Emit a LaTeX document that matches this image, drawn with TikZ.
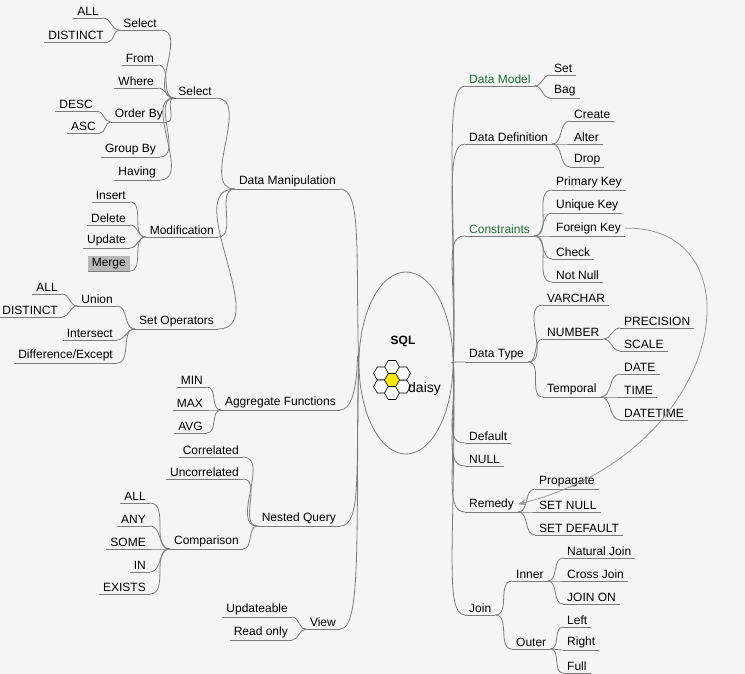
\documentclass[tikz,border=0pt]{standalone}
\usepackage{fontspec}
\setmainfont{Liberation Sans}
\usetikzlibrary{shapes.geometric,arrows.meta}
\definecolor{linegray}{HTML}{7C7C7C}
\definecolor{bggray}{HTML}{F5F5F5}
\definecolor{topicgreen}{HTML}{1F6E35}
\begin{document}
\begin{tikzpicture}[x=1pt,y=-1pt,font=\fontsize{12}{14}\selectfont]
	\tikzset{link/.style = {draw=linegray, line width=0.8pt}}
	\tikzset{ul/.style = {inner xsep=4pt, inner ysep=2pt, append after command={(\tikzlastnode.south west) edge[link] (\tikzlastnode.south east)}}}
	\tikzset{lt/.style = {ul, anchor=south east}}
	\tikzset{rt/.style = {ul, anchor=south west}}
	\tikzset{green/.style = {text=topicgreen}}
	\tikzset{hex/.style = {shape=regular polygon, regular polygon sides=6, draw=black, fill=white, line width=0.6pt, minimum size=15pt, inner sep=0pt}}
	\fill[bggray] (0,0) rectangle (745,674);
	\useasboundingbox (0,0) rectangle (745,674);
	% centre
	\node[shape=ellipse, draw=linegray, line width=0.8pt, minimum width=94pt, minimum height=182pt] (root) at (406,363) {};
	\node[font=\fontsize{12}{14}\selectfont\bfseries] (sql) at (403,341) {SQL};
	\node[hex] (h1) at (392,367) {};
	\node[hex] (h2) at (381,373.5) {};
	\node[hex] (h3) at (381,386.5) {};
	\node[hex] (h4) at (392,393) {};
	\node[hex] (h5) at (403,386.5) {};
	\node[hex] (h6) at (403,373.5) {};
	\node[hex, fill=yellow!90!orange] (h0) at (392,380) {};
	\node[font=\fontsize{14}{16}\selectfont, anchor=west, inner sep=0pt] (daisy) at (408,389) {daisy};
	% left side
	\node[lt] (all1) at (103,18) {ALL};
	\node[lt] (dist1) at (108,42) {DISTINCT};
	\node[lt] (sel2) at (161,30) {Select};
	\node[lt] (from) at (158,65) {From};
	\node[lt] (where) at (158,88) {Where};
	\node[lt] (desc) at (97,111) {DESC};
	\node[lt] (asc) at (100,133) {ASC};
	\node[lt] (order) at (167,122) {Order By};
	\node[lt] (group) at (160,157) {Group By};
	\node[lt] (having) at (160,180) {Having};
	\node[lt] (sel) at (216,98) {Select};
	\node[lt] (dm) at (340,189) {Data Manipulation};
	\node[lt] (insert) at (130,202) {Insert};
	\node[lt] (delete) at (130,225) {Delete};
	\node[lt] (update) at (130,248) {Update};
	\node[lt, fill=gray!55] (merge) at (130,271) {Merge};
	\node[lt] (modif) at (218,237) {Modification};
	\node[lt] (all2) at (62,294) {ALL};
	\node[lt] (dist2) at (62,317) {DISTINCT};
	\node[lt] (union) at (117,306) {Union};
	\node[lt] (inter) at (117,340) {Intersect};
	\node[lt] (diff) at (117,363) {Difference/Except};
	\node[lt] (setop) at (218,329) {Set Operators};
	\node[lt] (agg) at (340,410) {Aggregate Functions};
	\node[lt] (min) at (207,387) {MIN};
	\node[lt] (max) at (207,410) {MAX};
	\node[lt] (avg) at (207,433) {AVG};
	\node[lt] (nq) at (340,526) {Nested Query};
	\node[lt] (corr) at (243,457) {Correlated};
	\node[lt] (uncorr) at (243,479) {Uncorrelated};
	\node[lt] (comp) at (243,549) {Comparison};
	\node[lt] (all3) at (150,503) {ALL};
	\node[lt] (any) at (150,526) {ANY};
	\node[lt] (some) at (150,549) {SOME};
	\node[lt] (in) at (150,572) {IN};
	\node[lt] (exists) at (150,594) {EXISTS};
	\node[lt] (view) at (340,629) {View};
	\node[lt] (upd) at (292,617) {Updateable};
	\node[lt] (ronly) at (292,640) {Read only};
	% right side
	\node[rt, green] (dmod) at (465,86) {Data Model};
	\node[rt] (set) at (550,75) {Set};
	\node[rt] (bag) at (550,98) {Bag};
	\node[rt] (ddef) at (465,144) {Data Definition};
	\node[rt] (create) at (570,121) {Create};
	\node[rt] (alter) at (570,144) {Alter};
	\node[rt] (drop) at (570,167) {Drop};
	\node[rt, green] (cons) at (465,236) {Constraints};
	\node[rt] (pk) at (552,190) {Primary Key};
	\node[rt] (uk) at (552,213) {Unique Key};
	\node[rt] (fk) at (552,236) {Foreign Key};
	\node[rt] (check) at (552,259) {Check};
	\node[rt] (nn) at (552,282) {Not Null};
	\node[rt] (dtype) at (465,362) {Data Type};
	\node[rt] (varchar) at (543,305) {VARCHAR};
	\node[rt] (number) at (543,339) {NUMBER};
	\node[rt] (prec) at (620,328) {PRECISION};
	\node[rt] (scale) at (620,351) {SCALE};
	\node[rt] (temporal) at (543,397) {Temporal};
	\node[rt] (date) at (620,374) {DATE};
	\node[rt] (time) at (620,397) {TIME};
	\node[rt] (datetime) at (620,420) {DATETIME};
	\node[rt] (default) at (465,443) {Default};
	\node[rt] (null) at (465,466) {NULL};
	\node[rt] (remedy) at (465,512) {Remedy};
	\node[rt] (prop) at (535,489) {Propagate};
	\node[rt] (setnull) at (535,512) {SET NULL};
	\node[rt] (setdef) at (535,535) {SET DEFAULT};
	\node[rt] (join) at (465,615) {Join};
	\node[rt] (inner) at (512,581) {Inner};
	\node[rt] (natural) at (563,558) {Natural Join};
	\node[rt] (cross) at (563,581) {Cross Join};
	\node[rt] (joinon) at (563,604) {JOIN ON};
	\node[rt] (outer) at (512,649) {Outer};
	\node[rt] (left) at (563,627) {Left};
	\node[rt] (right) at (563,650) {Right};
	\node[rt] (full) at (563,673) {Full};
	% left links: child -> parent
	\foreach \c/\p in {all1/sel2, dist1/sel2, sel2/sel, from/sel, where/sel, order/sel, group/sel, having/sel,
		desc/order, asc/order, sel/dm, insert/modif, delete/modif, update/modif, merge/modif, modif/dm,
		all2/union, dist2/union, union/setop, inter/setop, diff/setop, setop/dm,
		min/agg, max/agg, avg/agg, corr/nq, uncorr/nq, comp/nq, all3/comp, any/comp, some/comp, in/comp, exists/comp,
		upd/view, ronly/view}
		\path[link] (\c.south east) to[out=0,in=180] (\p.south west);
	\foreach \c/\d in {dm/-110, agg/-30, nq/110, view/170}
		\path[link] (\c.south east) .. controls +(22,0) and +(-3,\d) .. (root.west);
	% right links: parent -> child
	\foreach \c/\d in {dmod/-170, ddef/-140, cons/-90, dtype/0, default/50, null/65, remedy/100, join/170}
		\path[link] (root.east) .. controls +(3,\d) and +(-22,0) .. (\c.south west);
	\foreach \p/\c in {dmod/set, dmod/bag, ddef/create, ddef/alter, ddef/drop,
		cons/pk, cons/uk, cons/fk, cons/check, cons/nn, dtype/varchar, dtype/number, dtype/temporal,
		number/prec, number/scale, temporal/date, temporal/time, temporal/datetime,
		remedy/prop, remedy/setnull, remedy/setdef, join/inner, join/outer,
		inner/natural, inner/cross, inner/joinon, outer/left, outer/right, outer/full}
		\path[link] (\p.south east) to[out=0,in=180] (\c.south west);
	% cross link
	\draw[link, draw=linegray!80, -{Stealth[length=8pt,width=6pt]}] (fk.east) .. controls (760,225) and (730,450) .. (remedy.east);
\end{tikzpicture}
\end{document}
